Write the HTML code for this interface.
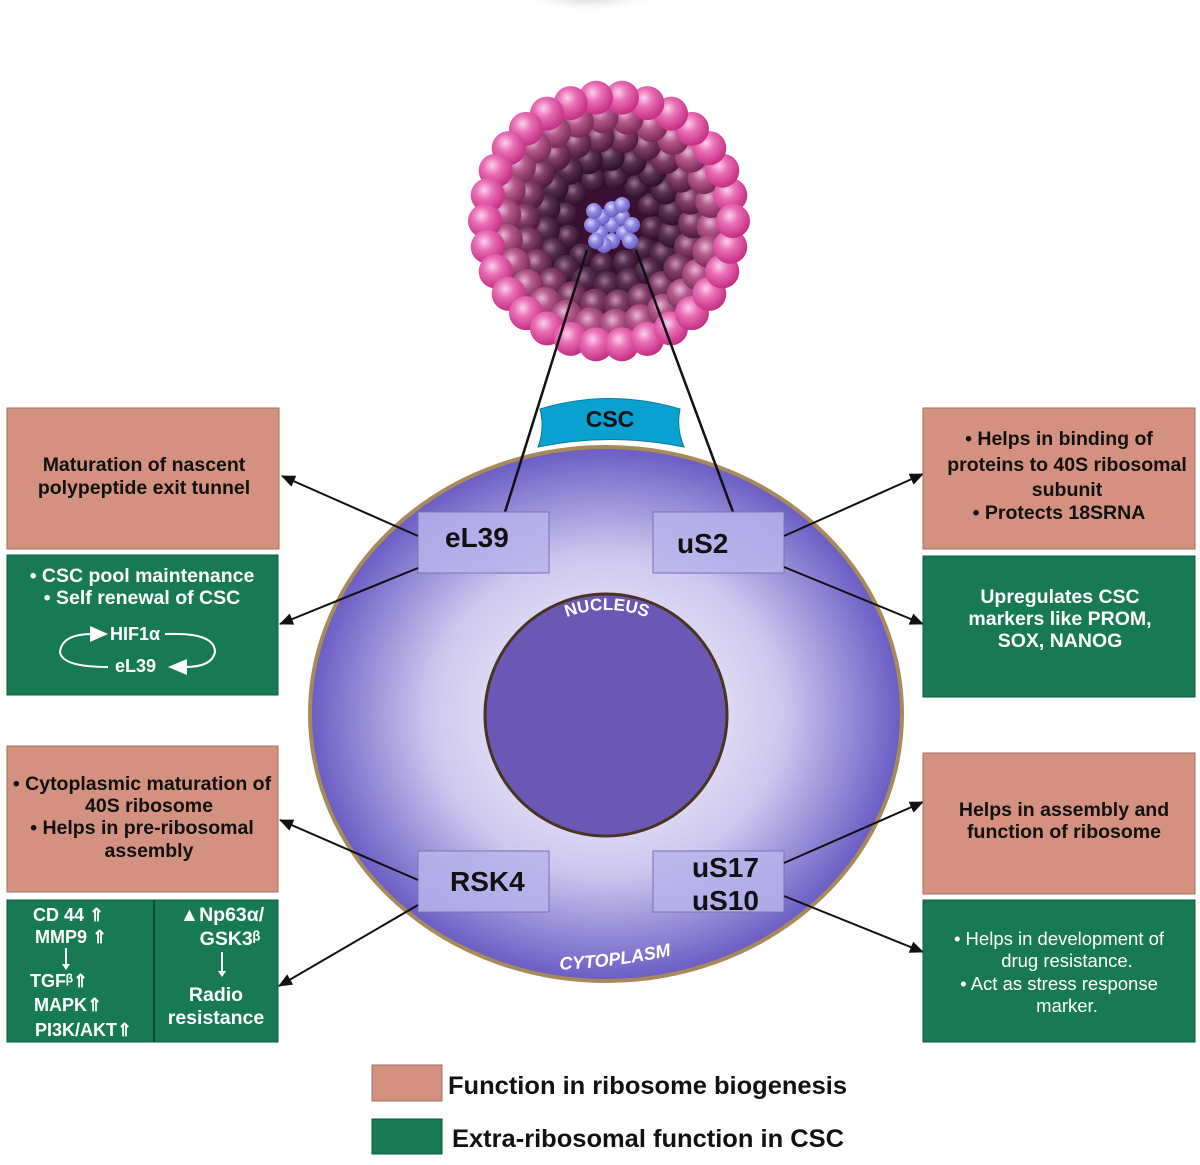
<!DOCTYPE html>
<html><head><meta charset="utf-8"><style>
body{margin:0;background:#fff;width:1200px;height:1160px;overflow:hidden;font-family:"Liberation Sans",Arial,sans-serif}
</style></head><body>
<svg id="s" width="1200" height="1160" viewBox="0 0 1200 1160" xmlns="http://www.w3.org/2000/svg" font-family="Liberation Sans, Arial, sans-serif" font-weight="bold">
<defs>
<radialGradient id="cell" cx="0.5" cy="0.5" r="0.5">
<stop offset="0" stop-color="#ffffff"/><stop offset="0.6" stop-color="#cdc7ee"/><stop offset="1" stop-color="#6a5cc4"/></radialGradient>
<radialGradient id="b1" cx="0.4" cy="0.35" r="0.65"><stop offset="0" stop-color="#fbd0ea"/><stop offset="0.4" stop-color="#e96fb5"/><stop offset="1" stop-color="#c52e84"/></radialGradient>
<radialGradient id="b2" cx="0.4" cy="0.35" r="0.65"><stop offset="0" stop-color="#e8b8d3"/><stop offset="0.4" stop-color="#b55a8a"/><stop offset="1" stop-color="#7a2a55"/></radialGradient>
<radialGradient id="b3" cx="0.4" cy="0.35" r="0.65"><stop offset="0" stop-color="#c898b2"/><stop offset="0.4" stop-color="#84406a"/><stop offset="1" stop-color="#4e1a3a"/></radialGradient>
<radialGradient id="b4" cx="0.4" cy="0.35" r="0.65"><stop offset="0" stop-color="#9a7090"/><stop offset="0.4" stop-color="#583050"/><stop offset="1" stop-color="#2e1028"/></radialGradient>
<radialGradient id="b5" cx="0.4" cy="0.35" r="0.65"><stop offset="0" stop-color="#d8d8ff"/><stop offset="0.5" stop-color="#8c86e0"/><stop offset="1" stop-color="#6a60c8"/></radialGradient>
<radialGradient id="shadow" cx="0.5" cy="0" r="0.7"><stop offset="0" stop-color="#555"/><stop offset="1" stop-color="#fff" stop-opacity="0"/></radialGradient>
<marker id="ar" markerWidth="14" markerHeight="12" refX="13" refY="6" orient="auto" markerUnits="userSpaceOnUse"><path d="M0,0 L14,6 L0,12 Z" fill="#111"/></marker>
</defs>
<ellipse cx="590" cy="4" rx="60" ry="22" fill="url(#shadow)"/>
<g id="sph"><circle cx="609" cy="221" r="120" fill="#3a1030"/></g>
<ellipse cx="606" cy="714" rx="296" ry="267" fill="url(#cell)" stroke="#a8895a" stroke-width="4"/>
<circle cx="606" cy="715" r="121" fill="#6b58b5" stroke="#4a3320" stroke-width="3"/>
<path d="M560,620 Q606,600 654,620" fill="none" id="nucp"/>
<text font-size="17" fill="#fff"><textPath href="#nucp" startOffset="50%" text-anchor="middle">NUCLEUS</textPath></text>
<path d="M553,970 Q615,968 678,954" fill="none" id="cytp"/>
<text font-size="18" fill="#fff" font-style="italic"><textPath href="#cytp" startOffset="50%" text-anchor="middle">CYTOPLASM</textPath></text>
<path d="M540,409 Q610,388 680,409 Q676,428 684,447 Q610,432 538,447 Q545,428 540,409 Z" fill="#0aa0d0" stroke="#0a7aa0"/>
<text x="610" y="427" font-size="23" text-anchor="middle" fill="#111">CSC</text>
<line x1="587" y1="250" x2="505" y2="512" stroke="#111" stroke-width="2.5"/>
<line x1="636" y1="250" x2="733" y2="512" stroke="#111" stroke-width="2.5"/>
<g fill="#b8b3ec" fill-opacity="0.85" stroke="#7a74b0">
<rect x="418" y="512" width="131" height="61"/><rect x="653" y="512" width="131" height="61"/>
<rect x="418" y="851" width="131" height="61"/><rect x="653" y="851" width="131" height="61"/></g>
<g font-size="28" fill="#111">
<text x="445" y="547">eL39</text><text x="677" y="553">uS2</text>
<text x="450" y="891">RSK4</text><text x="692" y="877">uS17</text><text x="692" y="910">uS10</text></g>
<g stroke="#111" stroke-width="2" marker-end="url(#ar)">
<line x1="418" y1="536" x2="282" y2="476"/><line x1="418" y1="568" x2="280" y2="624"/>
<line x1="418" y1="880" x2="280" y2="820"/><line x1="418" y1="905" x2="279" y2="986"/>
<line x1="784" y1="536" x2="923" y2="474"/><line x1="784" y1="567" x2="923" y2="624"/>
<line x1="784" y1="863" x2="923" y2="802"/><line x1="784" y1="896" x2="923" y2="952"/>
</g>
<g stroke="#a07060" stroke-width="1"><rect x="7" y="408" width="272" height="141" fill="#d4917f"/>
<rect x="7" y="746" width="271" height="146" fill="#d4917f"/>
<rect x="923" y="408" width="272" height="141" fill="#d4917f"/>
<rect x="923" y="753" width="272" height="141" fill="#d4917f"/>
<rect x="372" y="1065" width="70" height="36" fill="#d4917f"/></g>
<g stroke="#0e5a3c" stroke-width="1" fill="#177a55"><rect x="7" y="555" width="271" height="140"/>
<rect x="7" y="900" width="271" height="142"/><rect x="923" y="556" width="272" height="141"/>
<rect x="923" y="900" width="272" height="142"/><rect x="372" y="1119" width="70" height="35"/></g>
<line x1="154" y1="900" x2="154" y2="1042" stroke="#0e4a30" stroke-width="2"/>
<g font-size="19.5" fill="#111" text-anchor="middle">
<text x="144" y="471">Maturation of nascent</text><text x="144" y="494">polypeptide exit tunnel</text>
<text x="142" y="790">• Cytoplasmic maturation of</text><text x="149" y="812">40S ribosome</text>
<text x="142" y="834">• Helps in pre-ribosomal</text><text x="149" y="857">assembly</text>
<text x="1059" y="445">• Helps in binding of</text><text x="1067" y="471">proteins to 40S ribosomal</text>
<text x="1067" y="496">subunit</text><text x="1059" y="519">• Protects 18SRNA</text>
<text x="1064" y="816">Helps in assembly and</text><text x="1064" y="838">function of ribosome</text>
</g>
<g font-size="19.5" fill="#fff" text-anchor="middle">
<text x="142" y="582">• CSC pool maintenance</text><text x="142" y="604">• Self renewal of CSC</text>
<text x="1060" y="603">Upregulates CSC</text><text x="1060" y="625">markers like PROM,</text><text x="1060" y="647">SOX, NANOG</text>
<text x="216" y="1001">Radio</text><text x="216" y="1024">resistance</text>
<text x="222" y="921">▲Np63α/</text><text x="230" y="945">GSK3ᵝ</text>
</g>
<g font-size="18.5" fill="#fff" text-anchor="middle" font-weight="normal">
<text x="1059" y="945">• Helps in development of</text><text x="1067" y="967">drug resistance.</text>
<text x="1059" y="990">• Act as stress response</text><text x="1067" y="1012">marker.</text></g>
<g font-size="18" fill="#fff">
<text x="33" y="921">CD 44 ⇑</text><text x="35" y="943">MMP9  ⇑</text>
<text x="30" y="987">TGFᵝ⇑</text><text x="34" y="1011">MAPK⇑</text><text x="35" y="1036">PI3K/AKT⇑</text>
<text x="110" y="640">HIF1α</text><text x="115" y="672">eL39</text></g>
<g stroke="#fff" stroke-width="2" fill="none">
<line x1="66" y1="948" x2="66" y2="968"/><line x1="222" y1="952" x2="222" y2="975"/>
<path d="M92,634 Q62,634 60,652 Q62,667 108,667"/><path d="M165,634 Q215,632 215,652 Q212,667 185,667"/></g>
<g fill="#fff"><path d="M62,964 L66,970 L70,964Z"/><path d="M218,971 L222,977 L226,971Z"/>
<path d="M90,626 L108,634 L90,642Z"/><path d="M187,659 L168,667 L187,675Z"/></g>
<text x="448" y="1094" font-size="25" fill="#111" textLength="399" lengthAdjust="spacingAndGlyphs">Function in ribosome biogenesis</text>
<text x="452" y="1147" font-size="25" fill="#111" textLength="392" lengthAdjust="spacingAndGlyphs">Extra-ribosomal function in CSC</text>
</svg>
<script>
var g=document.getElementById('sph'),ns='http://www.w3.org/2000/svg';
var rings=[[124,17,'b1',30],[104,16,'b2',26],[84,15,'b3',22],[64,14,'b4',18],[44,12,'b4',12]];
rings.forEach(function(r,i){for(var k=0;k<r[3];k++){var a=k/r[3]*2*Math.PI+i*0.3;var c=document.createElementNS(ns,'circle');
c.setAttribute('cx',609+r[0]*Math.cos(a));c.setAttribute('cy',221+r[0]*Math.sin(a));c.setAttribute('r',r[1]);c.setAttribute('fill','url(#'+r[2]+')');g.insertBefore(c,g.children[1]);}});
var pts=[[0,0],[-10,-8],[10,-8],[-12,8],[12,8],[0,-16],[0,16],[-20,0],[20,0],[-8,20],[10,-20],[18,16],[-18,-14],[-16,16]];
pts.forEach(function(p){var c=document.createElementNS(ns,'circle');c.setAttribute('cx',612+p[0]);c.setAttribute('cy',225+p[1]);c.setAttribute('r',8);c.setAttribute('fill','url(#b5)');g.appendChild(c);});
</script>
</body></html>
